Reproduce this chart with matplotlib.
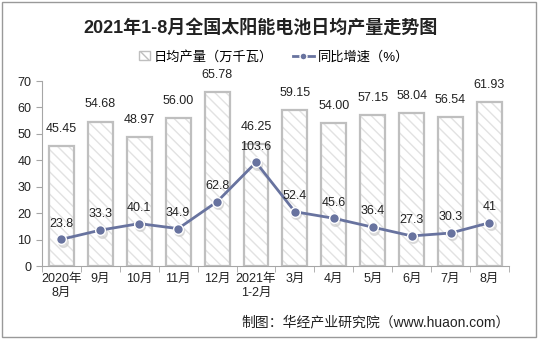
import numpy as np
import matplotlib.pyplot as plt
from matplotlib.patches import Rectangle
from matplotlib.lines import Line2D

plt.rcParams['font.family'] = ['Liberation Sans', 'Noto Sans CJK SC']
plt.rcParams['hatch.linewidth'] = 1.0

months = ['2020年\n8月', '9月', '10月', '11月', '12月', '2021年\n1-2月',
          '3月', '4月', '5月', '6月', '7月', '8月']
output = [45.45, 54.68, 48.97, 56.00, 65.78, 46.25, 59.15, 54.00, 57.15, 58.04, 56.54, 61.93]
growth = [23.8, 33.3, 40.1, 34.9, 62.8, 103.6, 52.4, 45.6, 36.4, 27.3, 30.3, 41]
growth_labels = ['23.8', '33.3', '40.1', '34.9', '62.8', '103.6', '52.4', '45.6', '36.4', '27.3', '30.3', '41']

line_color = '#68739f'
axis_gray = '#a6a6a6'

fig = plt.figure(figsize=(5.38, 3.39), dpi=100)
ax = fig.add_axes([0.078, 0.215, 0.868, 0.546])
x = np.arange(len(months))

# hatched fill, then outline
ax.bar(x, output, width=0.64, color='white', edgecolor='#e2e2e2', hatch='\\\\\\', linewidth=0)
ax.bar(x, output, width=0.64, fill=False, edgecolor='#bfbfbf', linewidth=1.6)
for xi, v in zip(x, output):
    ax.annotate(f'{v:.2f}', (xi, v), xytext=(0, 8), textcoords='offset points',
                ha='center', va='bottom', fontsize=9, color='#222222')

ax.set_xlim(-0.5, len(months) - 0.5)
ax.set_ylim(0, 70)
ax.set_yticks(range(0, 71, 10))
ax.set_xticks(x)
ax.set_xticklabels(months, fontsize=9, color='#222222')
ax.set_xticks(np.arange(-0.5, len(months), 1), minor=True)
ax.tick_params(axis='x', which='major', length=0, pad=5)
ax.tick_params(axis='x', which='minor', length=4, color=axis_gray)
ax.tick_params(axis='y', length=4, color=axis_gray, labelsize=9, labelcolor='#222222')
for s in ['top', 'right']:
    ax.spines[s].set_visible(False)
for s in ['left', 'bottom']:
    ax.spines[s].set_color(axis_gray)

ax2 = ax.twinx()
ax2.set_ylim(-4, 188)
ax2.plot(x + 0.03, np.array(growth) - 2.5, color='#cccccc', lw=0, marker='o', ms=7, alpha=0.6, zorder=1)
ax2.plot(x, growth, color=line_color, lw=2, marker='o', ms=7,
         markeredgecolor='white', markeredgewidth=1, zorder=3)
for xi, v, t in zip(x, growth, growth_labels):
    ax2.annotate(t, (xi, v), xytext=(0, 7), textcoords='offset points',
                 ha='center', va='bottom', fontsize=9, color='#222222')
ax2.axis('off')

fig.text(0.485, 0.917, '2021年1-8月全国太阳能电池日均产量走势图', ha='center', va='center',
         fontsize=13, fontweight='bold', color='#222222')

handles = [
    Rectangle((0, 0), 1, 1, facecolor='white', edgecolor='#bfbfbf', hatch='\\\\\\', linewidth=1),
    Line2D([0], [0], color=line_color, lw=2, marker='o', ms=5, markeredgecolor='white'),
]
fig.legend(handles, ['日均产量（万千瓦）', '同比增速（%）'], loc='center',
           bbox_to_anchor=(0.5, 0.832), ncol=2, frameon=False, fontsize=9.5,
           handlelength=1.6, handleheight=0.7, columnspacing=1.5, handletextpad=0.3)
# make the bar handle a small square next to its text
leg_patch = fig.legends[0].legend_handles[0]
w = leg_patch.get_width()
leg_patch.set_x(leg_patch.get_x() + w - 8)
leg_patch.set_width(8)

fig.text(0.947, 0.05, '制图：华经产业研究院（www.huaon.com）', ha='right', va='center',
         fontsize=10, color='#222222')

fig.patches.append(Rectangle((0.004, 0.006), 0.992, 0.988, transform=fig.transFigure,
                             fill=False, edgecolor='#999999', linewidth=1))

fig.savefig('out.png', dpi=100)
